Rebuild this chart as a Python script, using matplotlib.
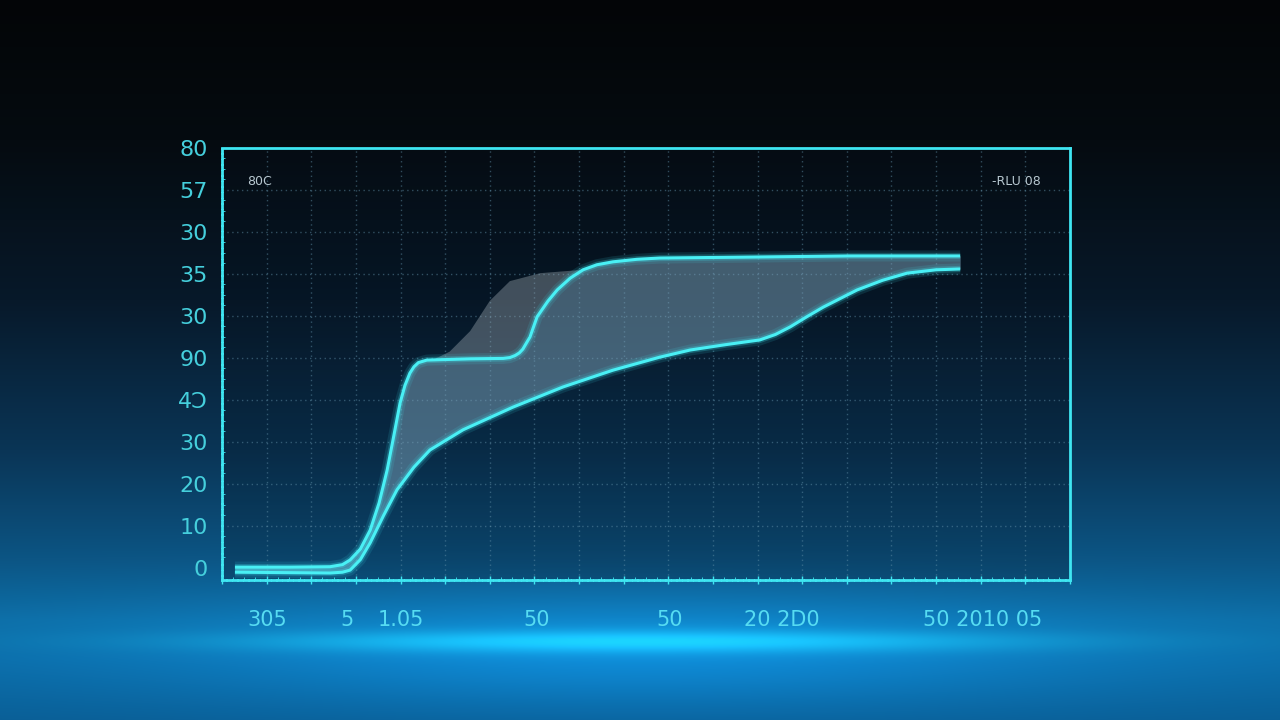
import numpy as np
import matplotlib
matplotlib.use("Agg")
import matplotlib.pyplot as plt
from matplotlib.colors import to_rgb

########################################
# Data
# x in grid units (19 cells), y in axis units (0..100)
########################################
upper_x = [0.29, 1.52, 2.42, 2.70, 2.87, 3.10, 3.32, 3.52, 3.70, 3.85, 3.99, 4.10, 4.21,
           4.30, 4.40, 4.59, 5.56, 6.30, 6.45, 6.57, 6.66, 6.74, 6.90, 7.06, 7.30,
           7.51, 7.80, 8.09, 8.40, 8.76, 9.30, 9.81, 11.61, 14.07, 16.54]
upper_y = [0.2, 0.2, 0.3, 0.8, 1.9, 4.5, 9.0, 15.5, 23.3, 31.5, 39.3, 43.5, 46.4,
           47.9, 48.9, 49.5, 49.8, 49.9, 50.1, 50.6, 51.2, 52.1, 55.0, 59.8, 63.5,
           66.2, 69.0, 71.0, 72.2, 72.9, 73.5, 73.8, 74.0, 74.3, 74.3]

lower_x = [0.29, 2.42, 2.70, 2.87, 3.10, 3.32, 3.62, 3.92, 4.30, 4.66, 5.40, 6.52, 7.64,
           8.76, 9.81, 10.49, 11.30, 12.05, 12.40, 12.73, 13.10, 13.47, 14.23, 14.80,
           15.35, 16.00, 16.54]
lower_y = [-1.0, -1.2, -1.0, -0.5, 2.0, 6.0, 12.5, 18.6, 24.0, 28.1, 32.9, 38.3, 43.1,
           47.1, 50.2, 51.9, 53.2, 54.3, 55.6, 57.4, 59.8, 62.1, 66.2, 68.5,
           70.2, 71.0, 71.2]

# hazy smear above the first plateau (left edge, then back down the upper curve)
haze_x = [4.70, 5.10, 5.56, 6.00, 6.45, 7.13, 8.09, 7.51, 7.06, 6.74, 6.52, 5.56, 4.70]
haze_y = [49.4, 51.5, 56.4, 63.6, 68.3, 70.2, 71.0, 66.2, 59.8, 52.1, 50.2, 49.8, 49.4]

ytick_pos = [0, 10, 20, 30, 40, 50, 60, 70, 80, 90, 100]
ytick_lab = ["0", "10", "20", "30", "4Ɔ", "90", "30", "35", "30", "57", "80"]

xlab_pos = [1.01, 2.80, 4.01, 7.04, 10.02, 12.55, 17.05]
xlab_txt = ["305", "5", "1.05", "50", "50", "20 2D0", "50 2010 05"]

########################################
# Figure + background
########################################
fig = plt.figure(figsize=(12.8, 7.2), dpi=100)

H, W = 720, 1280
rows = np.arange(H)
stops_y = [0, 140, 300, 450, 560, 620, 660, 720]
stops_c = ["#030507", "#050b10", "#07192a", "#0a3556", "#0c5584", "#0d6ca3", "#0c6ba5", "#0a5e95"]
cols = np.array([to_rgb(c) for c in stops_c])
grad = np.stack([np.interp(rows, stops_y, cols[:, k]) for k in range(3)], axis=1)
bg = np.repeat(grad[:, None, :], W, axis=1)
yy, xx = np.mgrid[0:H, 0:W]
glow = np.exp(-((xx - 640) / 380.0) ** 2 - ((yy - 641) / 11.0) ** 2)
haze = np.exp(-((xx - 640) / 480.0) ** 2 - ((yy - 650) / 60.0) ** 2)
glow_col = np.array(to_rgb("#1fd4f4"))
bg = bg + glow[..., None] * (glow_col - bg) * 0.7 + haze[..., None] * np.array([0.01, 0.13, 0.2])
bg = np.clip(bg, 0, 1)

bax = fig.add_axes([0, 0, 1, 1])
bax.imshow(bg, aspect="auto", extent=[0, 1, 0, 1], origin="upper", zorder=0)
bax.axis("off")

########################################
# Chart panel
########################################
ax = fig.add_axes([222 / 1280, 140 / 720, 848 / 1280, 432 / 720])
ax.set_facecolor((0.02, 0.06, 0.10, 0.25))
ax.set_xlim(0, 19)
ax.set_ylim(-2.86, 100)

cyan = "#3fe6f2"
for s in ax.spines.values():
    s.set_color(cyan)
    s.set_linewidth(2)
ax.spines["left"].set_linestyle((0, (1.2, 0.8)))
ax.spines["bottom"].set_linestyle((0, (1.2, 0.8)))

# grid
for gx in range(1, 19):
    ax.axvline(gx, color="#5f8ea6", lw=1, ls=(0, (1, 2.5)), alpha=0.5, zorder=1)
for gy in ytick_pos[1:-1]:
    ax.axhline(gy, color="#5f8ea6", lw=1, ls=(0, (1, 2.5)), alpha=0.5, zorder=1)

ax.set_yticks(ytick_pos)
ax.set_yticklabels(ytick_lab)
ax.set_xticks(range(0, 20))
ax.set_xticklabels([])
ax.set_yticks(np.arange(0, 100, 2.5), minor=True)
ax.set_xticks(np.arange(0, 19, 0.25), minor=True)
ax.tick_params(axis="y", which="major", length=0, pad=10, labelsize=16, labelcolor="#45cfdc")
ax.tick_params(axis="y", which="minor", length=2, color=cyan, direction="in")
ax.tick_params(axis="x", which="major", length=6, color=cyan, direction="inout", width=1)
ax.tick_params(axis="x", which="minor", length=2, color=cyan, direction="in")

for xp, tx in zip(xlab_pos, xlab_txt):
    ax.text(xp, -0.07, tx, transform=ax.get_xaxis_transform(), ha="center", va="top",
            fontsize=15, color="#56dcf2")

ax.text(0.03, 0.915, "80C", transform=ax.transAxes, fontsize=9, color="#b8c8d0")
ax.text(0.965, 0.915, "-RLU 08", transform=ax.transAxes, fontsize=9, color="#b8c8d0", ha="right")

########################################
# Curves
########################################
ax.fill(haze_x, haze_y, color="#a4b0b8", alpha=0.38, lw=0, zorder=2)

ux = np.array(upper_x)
uy = np.array(upper_y)
lx = np.array(lower_x)
ly = np.array(lower_y)
# fill between uses a shared x grid built from both point sets
fx = np.union1d(ux, lx)
ax.fill_between(fx, np.interp(fx, lx, ly), np.interp(fx, ux, uy),
                color="#7fa6bd", alpha=0.5, lw=0, zorder=3)

for xs, ys in [(ux, uy), (lx, ly)]:
    ax.plot(xs, ys, color=cyan, lw=8, alpha=0.12, solid_capstyle="butt", zorder=4)
    ax.plot(xs, ys, color=cyan, lw=4.5, alpha=0.25, solid_capstyle="butt", zorder=4)
    ax.plot(xs, ys, color="#49f0f5", lw=2.2, solid_capstyle="butt", zorder=5)

fig.savefig("out.png", dpi=100)
